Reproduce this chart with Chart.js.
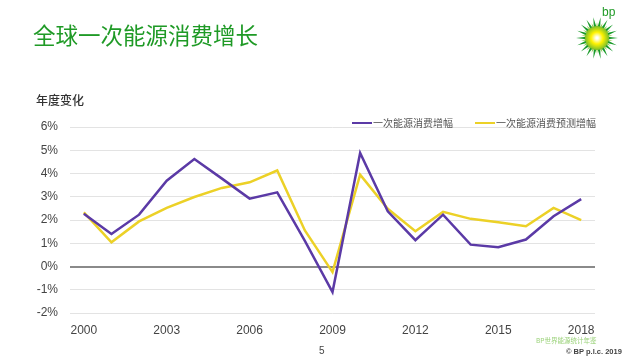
<!DOCTYPE html>
<html><head><meta charset="utf-8">
<script src="https://cdn.jsdelivr.net/npm/chart.js@4/dist/chart.umd.min.js"></script>
<style>
html,body{margin:0;padding:0;background:#fff;width:640px;height:360px;overflow:hidden;font-family:"Noto Sans CJK SC","Noto Sans",sans-serif;}
#wrap{position:absolute;left:0;top:0;width:640px;height:360px;}
.t{position:absolute;white-space:nowrap;line-height:1;}
#title{left:33px;top:23px;font-size:22.5px;color:#1f9a26;}
#ylab{left:36px;top:94px;font-size:12px;color:#333;font-weight:500;}
#legend{position:absolute;top:117px;left:352px;font-size:10px;color:#555;}
.li{position:absolute;top:0;white-space:nowrap;line-height:12px;}
.sw{display:inline-block;width:20px;height:2px;vertical-align:middle;margin-right:1px;position:relative;top:-1px;}
#pg{left:319px;top:346px;font-size:10px;color:#444;font-family:"Liberation Sans",sans-serif;}
#cp{left:566px;top:348px;font-size:7.5px;color:#444;font-weight:bold;font-family:"Liberation Sans",sans-serif;}
#src{left:536px;top:337px;font-size:6.5px;color:#9bd27a;}
#bp{left:602px;top:6px;font-size:12px;color:#1f9a26;font-family:"Liberation Sans",sans-serif;}
</style></head><body>
<div id="wrap">
<canvas id="c" width="640" height="360"></canvas>
<canvas id="logo" width="60" height="60" style="position:absolute;left:567px;top:8px;"></canvas>
<div class="t" id="title">全球一次能源消费增长</div>
<div class="t" id="ylab">年度变化</div>
<div id="legend"></div>
<div class="t" id="pg">5</div>
<div class="t" id="src">BP世界能源统计年鉴</div>
<div class="t" id="cp">© BP p.l.c. 2019</div>
<div class="t" id="bp">bp</div>
</div>
<script>
const years = ["2000","2001","2002","2003","2004","2005","2006","2007","2008","2009","2010","2011","2012","2013","2014","2015","2016","2017","2018"];
const actual = [2.27,1.40,2.23,3.69,4.62,3.78,2.92,3.19,1.10,-1.10,4.88,2.37,1.13,2.23,0.94,0.83,1.16,2.16,2.90];
const forecast = [2.33,1.04,1.94,2.52,2.99,3.38,3.62,4.13,1.55,-0.24,3.95,2.48,1.52,2.35,2.05,1.90,1.73,2.52,1.99];
const seriesNames = ["一次能源消费增幅","一次能源消费预测增幅"];
const seriesColors = ["#5b3aa6","#ecd127"];
const shownYears = ["2000","2003","2006","2009","2012","2015","2018"];
const yTicks = [-2,-1,0,1,2,3,4,5,6];

const lg = document.getElementById('legend');
const lx = [0,123];
seriesNames.forEach((n,i)=>{
  const d=document.createElement('div');d.className='li';d.style.left=lx[i]+'px';
  d.innerHTML='<span class="sw" style="background:'+seriesColors[i]+'"></span>'+n;
  lg.appendChild(d);
});

new Chart(document.getElementById('c'),{
  type:'line',
  data:{labels:years,datasets:[
    {label:seriesNames[0],data:actual,borderColor:seriesColors[0],borderWidth:2.5,pointRadius:0,tension:0,fill:false},
    {label:seriesNames[1],data:forecast,borderColor:seriesColors[1],borderWidth:2.5,pointRadius:0,tension:0,fill:false}
  ]},
  options:{
    responsive:false,animation:false,
    layout:{padding:{left:10,top:127,right:45,bottom:0}},
    plugins:{legend:{display:false},tooltip:{enabled:false}},
    scales:{
      x:{type:'category',offset:true,
        grid:{display:false,drawTicks:false},border:{display:false},
        afterFit:s=>{s.height=47;},
        ticks:{autoSkip:false,maxRotation:0,padding:10,color:'#444',font:{family:'"Liberation Sans","Noto Sans",sans-serif',size:12},
          callback:function(v,i){const l=this.getLabelForValue(v);return shownYears.includes(l)?l:'';}}
      },
      y:{min:-2,max:6,
        afterFit:s=>{s.width=60;},
        afterBuildTicks:s=>{s.ticks=yTicks.map(v=>({value:v}));},
        border:{display:false},
        grid:{drawTicks:false,color:c=>c.tick&&c.tick.value===0?'#8a8a8a':'#e3e3e3',lineWidth:c=>c.tick&&c.tick.value===0?2:1},
        ticks:{padding:12,color:'#444',font:{family:'"Liberation Sans","Noto Sans",sans-serif',size:12},callback:v=>v+'%'}
      }
    }
  }
});

const g=document.getElementById('logo').getContext('2d');
const cx=30,cy=30;
function petals(r1,r2,n,col,rot,w){g.fillStyle=col;for(let i=0;i<n;i++){const a=rot+i*2*Math.PI/n;g.beginPath();g.moveTo(cx+r1*Math.cos(a-w),cy+r1*Math.sin(a-w));g.lineTo(cx+r2*Math.cos(a),cy+r2*Math.sin(a));g.lineTo(cx+r1*Math.cos(a+w),cy+r1*Math.sin(a+w));g.closePath();g.fill();}}
petals(9,21,18,'#1a9a2a',0,0.18);
petals(7,16,18,'#8cc63f',Math.PI/18,0.2);
const rg=g.createRadialGradient(cx,cy,1,cx,cy,12);rg.addColorStop(0,'#ffffff');rg.addColorStop(0.45,'#fff200');rg.addColorStop(1,'#7bbf2a');
g.fillStyle=rg;g.beginPath();g.arc(cx,cy,12,0,Math.PI*2);g.fill();
</script>
</body></html>
